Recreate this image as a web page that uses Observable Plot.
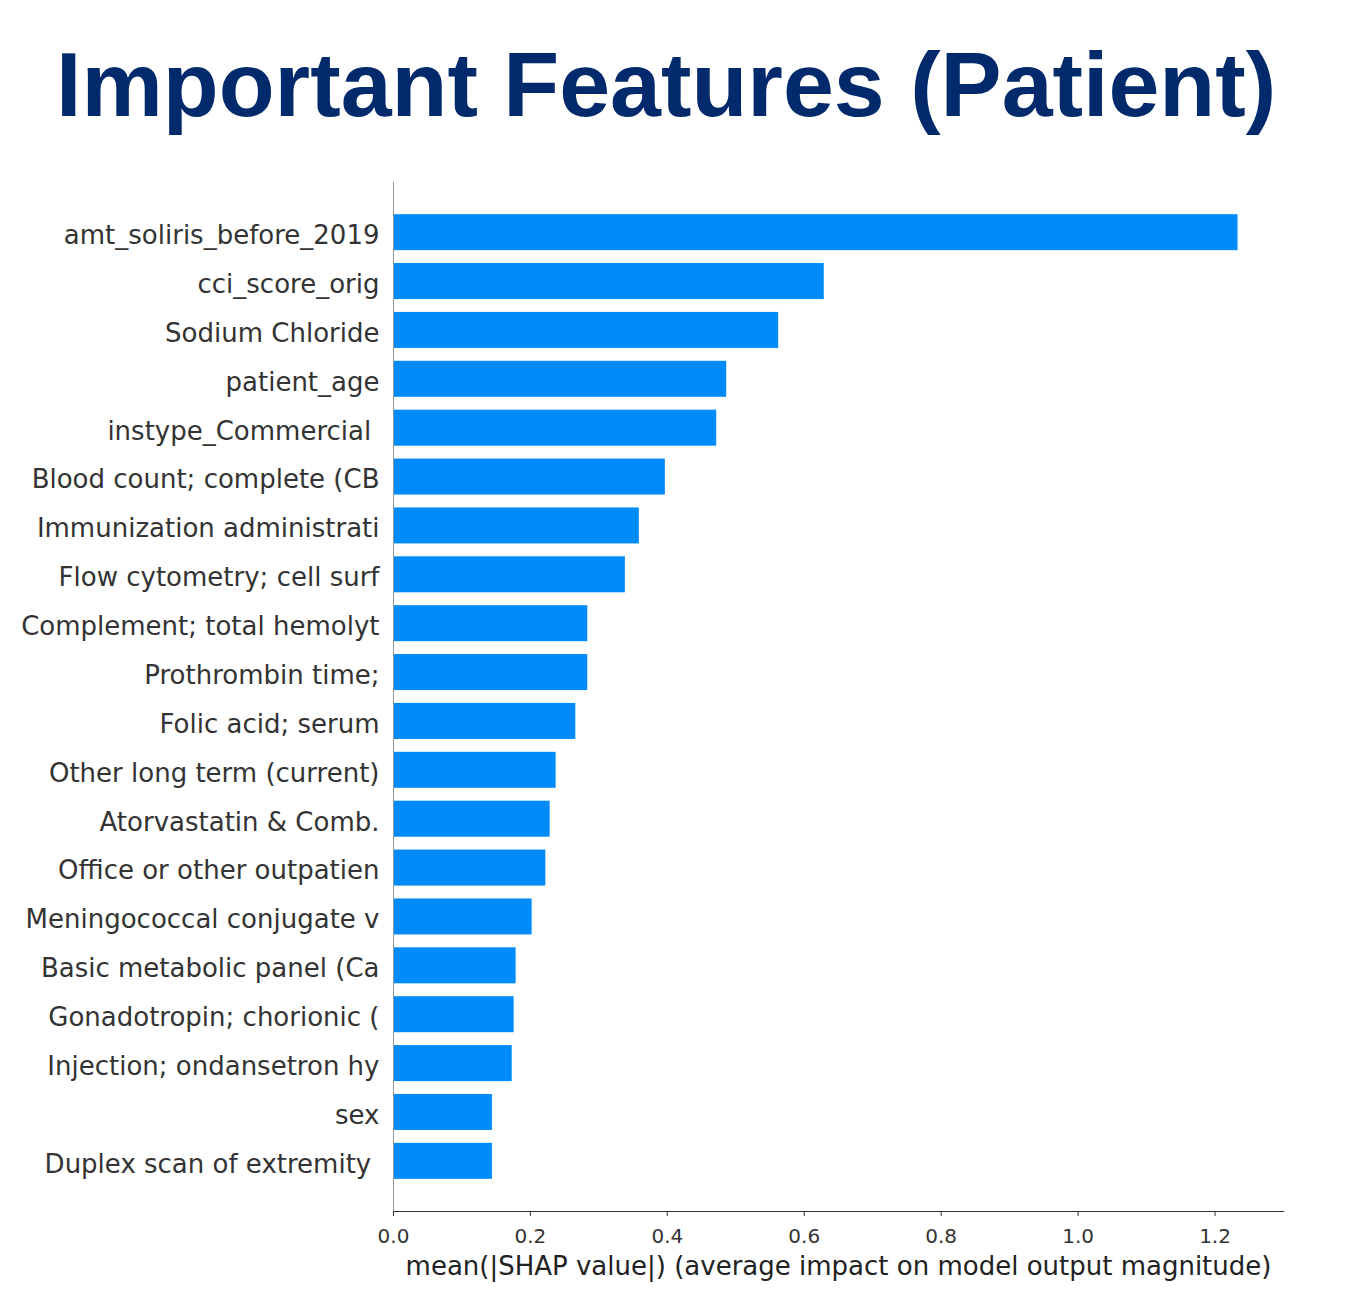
<!DOCTYPE html>
<html><head><meta charset="utf-8">
<script src="https://cdn.jsdelivr.net/npm/d3@7"></script>
<script src="https://cdn.jsdelivr.net/npm/@observablehq/plot@0.6"></script>
<style>
body{margin:0;background:#fff;width:1357px;height:1292px;position:relative;overflow:hidden}
#title{position:absolute;left:56px;top:39px;font:bold 91.5px/91.5px "Liberation Sans",Arial,sans-serif;color:#002a6b;white-space:nowrap}
#chart{position:absolute;left:0;top:160px}
#chart svg text{white-space:pre}
</style></head><body>
<div id="title">Important Features (Patient)</div>
<div id="chart"></div>
<script>
const features = [
  "amt_soliris_before_2019",
  "cci_score_orig",
  "Sodium Chloride",
  "patient_age",
  "instype_Commercial ",
  "Blood count; complete (CB",
  "Immunization administrati",
  "Flow cytometry; cell surf",
  "Complement; total hemolyt",
  "Prothrombin time;",
  "Folic acid; serum",
  "Other long term (current)",
  "Atorvastatin & Comb.",
  "Office or other outpatien",
  "Meningococcal conjugate v",
  "Basic metabolic panel (Ca",
  "Gonadotropin; chorionic (",
  "Injection; ondansetron hy",
  "sex",
  "Duplex scan of extremity "
];
const values = [1.2336, 0.6292, 0.5626, 0.4867, 0.4721, 0.3971, 0.3591, 0.3387, 0.2838, 0.2838,
                0.2663, 0.2375, 0.2288, 0.2225, 0.2025, 0.1791, 0.1762, 0.1734, 0.1445, 0.1445];
const xTicks = [0, 0.2, 0.4, 0.6, 0.8, 1.0, 1.2];
const xLabel = "mean(|SHAP value|) (average impact on model output magnitude)";

const data = features.map((f, i) => ({feature: f, value: values[i]}));

const plot = Plot.plot({
  width: 1357, height: 1132,
  marginTop: 22, marginBottom: 81, marginLeft: 393, marginRight: 74,
  style: {fontFamily: "'DejaVu Sans', sans-serif", background: "#fff"},
  x: {domain: [0, 1.3], ticks: xTicks, tickFormat: d => d.toFixed(1)},
  y: {domain: features, paddingInner: 0.2635, paddingOuter: 0.658, round: false},
  marks: [
    Plot.barX(data, {x: "value", y: "feature", fill: "#008bfb"}),
    Plot.axisY({tickSize: 0, tickPadding: 14, fontSize: 26, color: "#333", label: null, dy: 3}),
    Plot.axisX({ticks: xTicks, tickFormat: d => d.toFixed(1), tickSize: 5, tickPadding: 12, fontSize: 20, color: "#333", label: null}),
    Plot.ruleX([0], {stroke: "#999"}),
    Plot.frame({anchor: "bottom", stroke: "#333"}),
    Plot.text([xLabel], {text: d => d, frameAnchor: "bottom", dy: 63, fontSize: 26, fill: "#222"})
  ]
});
document.getElementById("chart").appendChild(plot);
</script>
</body></html>
